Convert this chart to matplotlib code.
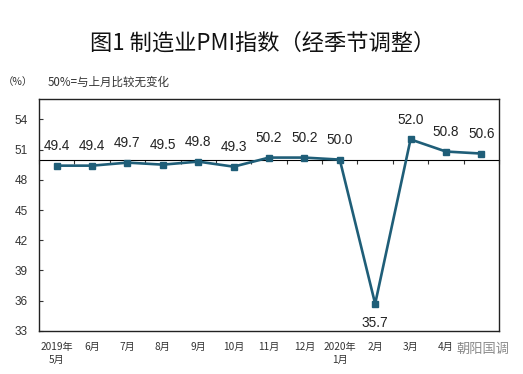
import matplotlib
matplotlib.use("Agg")
import matplotlib.pyplot as plt
import numpy as np

plt.rcParams['font.family'] = ['Noto Sans CJK SC', 'DejaVu Sans']

months = ["2019年\n5月", "6月", "7月", "8月", "9月", "10月", "11月", "12月",
          "2020年\n1月", "2月", "3月", "4月", "5月"]
pmi = [49.4, 49.4, 49.7, 49.5, 49.8, 49.3, 50.2, 50.2, 50.0, 35.7, 52.0, 50.8, 50.6]
yticks = [33, 36, 39, 42, 45, 48, 51, 54]
baseline = 50

line_color = "#1f5e78"

fig = plt.figure(figsize=(5.23, 3.74), dpi=100)
ax = fig.add_axes([0.0746, 0.115, 0.8795, 0.62])

x = np.arange(len(pmi))
ax.plot(x, pmi, color=line_color, lw=1.9, marker='s', markersize=4.2,
        markerfacecolor=line_color, markeredgecolor=line_color, zorder=3)

for xi, v in zip(x, pmi):
    if v < 40:
        ax.annotate(f"{v:.1f}", (xi, v), xytext=(0, -9), textcoords='offset points',
                    ha='center', va='top', fontsize=9.8, family='Liberation Sans', color='#222222')
    else:
        ax.annotate(f"{v:.1f}", (xi, v), xytext=(0, 9), textcoords='offset points',
                    ha='center', va='bottom', fontsize=9.8, family='Liberation Sans', color='#222222')

ax.set_xlim(-0.5, len(pmi) - 0.5)
ax.set_ylim(33, 56)
ax.set_yticks(yticks)
ax.set_yticklabels([str(t) for t in yticks], family='Liberation Sans', fontsize=8.5, color='#333333')
ax.tick_params(axis='y', direction='in', length=3, pad=8, width=0.8, color='#333333')
ax.set_xticks(x)
# the last label is hidden under the watermark in the reference
shown = months[:-1] + [""]
ax.set_xticklabels(shown, fontsize=7.3, linespacing=1.3, color='#333333')
ax.tick_params(axis='x', length=0, pad=8)

for s in ax.spines.values():
    s.set_linewidth(1.0)
    s.set_color('#222222')

# axis line at 50 with category boundary ticks
loc = (baseline - 33) / (56 - 33)
sec = ax.secondary_xaxis(loc)
sec.set_xticks(np.arange(len(pmi) + 1) - 0.5)
sec.set_xticklabels([])
sec.tick_params(direction='in', length=3, width=0.8, color='#333333')
sec.spines['bottom'].set_linewidth(1.0)
sec.spines['bottom'].set_color('#222222')

fig.text(0.502, 0.885, "图1 制造业PMI指数（经季节调整）", ha='center', va='center',
         fontsize=16, color='#111111', fontweight='normal')
fig.text(0.034, 0.781, "（%）", ha='center', va='center', fontsize=7.5, color='#333333')
fig.text(0.092, 0.781, "50%=与上月比较无变化", ha='left', va='center', fontsize=8.3, color='#333333')

fig.text(0.872, 0.066, "朝阳国调", ha='left', va='center', fontsize=9.5, color='#8a8a8a')

fig.savefig("out.png", dpi=100)
